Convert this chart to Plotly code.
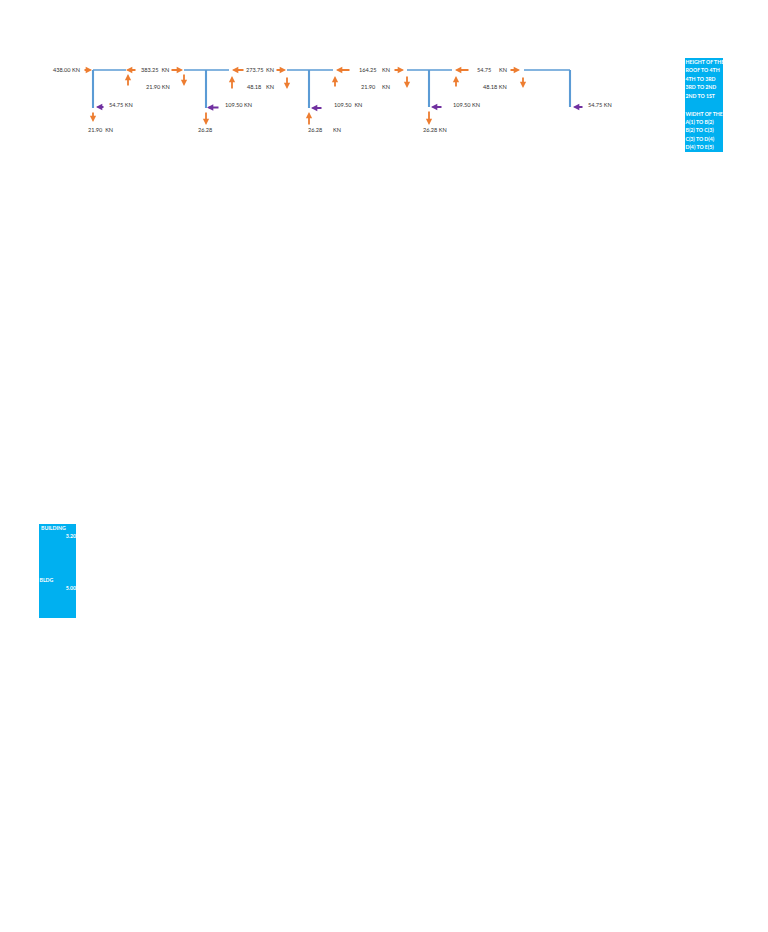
import plotly.graph_objects as go

BLUE = "#5B9BD5"
ORANGE = "#ED7D31"
PURPLE = "#7030A0"
PANEL = "#00B0F0"
TEXT = "#333333"
FONT = "Lato"

# frame members, (x0, y0, x1, y1) in page pixels
beam_segments = [(93, 70, 126, 70), (184, 70, 229, 70), (287, 70, 333, 70), (407, 70, 452, 70), (524, 70, 570, 70)]
column_segments = [(93, 70, 93, 108), (206, 70, 206, 108), (309, 70, 309, 108), (429, 70, 429, 107), (570, 70, 570, 107)]

# arrows, (tail x, tail y, tip x, tip y)
orange_arrows = [
    (83, 70, 92, 70), (137, 70, 126, 70), (128, 87, 128, 74), (93, 111, 93, 122),
    (170, 70, 183, 70), (184, 73, 184, 86), (206, 111, 206, 125), (245, 70, 232, 70),
    (232, 90, 232, 76), (275, 70, 286, 70), (287, 76, 287, 89), (351, 70, 336, 70),
    (335, 88, 335, 76), (393, 70, 404, 70), (407, 75, 407, 88), (309, 126, 309, 112),
    (429, 110, 429, 125), (470, 70, 455, 70), (456, 88, 456, 76), (509, 70, 520, 70),
    (523, 76, 523, 88),
]
purple_arrows = [(105, 107, 96, 107), (220, 107.5, 207, 107.5), (323, 108, 311, 108), (443, 107, 431, 107), (584, 107, 573, 107)]

# load labels
label_text = [
    "438.00 KN", "383.25  KN", "21.90 KN", "54.75 KN", "21.90  KN", "109.50 KN", "26.28",
    "273.75", "KN", "48.18", "KN", "164.25", "KN", "21.90", "KN", "109.50  KN", "26.28", "KN",
    "109.50 KN", "26.28 KN", "54.75", "KN", "48.18 KN", "54.75 KN",
]
label_x = [53, 141, 146, 109, 88, 225, 198, 246, 266, 247, 266, 359, 382, 361, 382, 334, 308, 333, 453, 423, 477, 499, 483, 588]
label_y = [71, 71, 88, 105.5, 130.5, 105.5, 130.5, 71, 71, 88, 88, 71, 71, 88, 88, 105.5, 130.5, 130.5, 105.5, 130.5, 71, 71, 88, 105.5]

# the two blue cell blocks
panels = [(685, 58, 723, 152), (39, 524, 76, 618)]
panel_text = [
    "HEIGHT OF THE", "ROOF TO 4TH", "4TH TO 3RD", "3RD TO 2ND", "2ND TO 1ST",
    "WIDHT OF THE", "A(1) TO B(2)", "B(2) TO C(3)", "C(3) TO D(4)", "D(4) TO E(5)",
    "BUILDING", "BLDG",
]
panel_x = [685.5, 685.5, 685.5, 685.5, 685.5, 685.5, 685.5, 685.5, 685.5, 685.5, 41, 39.5]
panel_y = [62.5, 71, 79.5, 88, 96.5, 114.5, 122.5, 131, 139.5, 148, 529, 580.5]
height_values = ["3.20", "5.00"]
height_x = [76, 76]
height_y = [536.5, 588.5]

fig = go.Figure()

for seg in beam_segments:
    fig.add_trace(go.Scatter(x=[seg[0], seg[2]], y=[seg[1], seg[3]], mode="lines",
                             line=dict(color=BLUE, width=1.6), hoverinfo="skip"))
for seg in column_segments:
    fig.add_trace(go.Scatter(x=[seg[0], seg[2]], y=[seg[1], seg[3]], mode="lines",
                             line=dict(color=BLUE, width=2.1), hoverinfo="skip"))

fig.add_trace(go.Scatter(x=label_x, y=label_y, text=label_text, mode="text", textposition="middle right",
                         textfont=dict(family=FONT, size=5.6, color=TEXT), hoverinfo="skip"))
fig.add_trace(go.Scatter(x=panel_x, y=panel_y, text=panel_text, mode="text", textposition="middle right",
                         textfont=dict(family=FONT, size=5.2, color="white", weight="bold"), hoverinfo="skip"))
fig.add_trace(go.Scatter(x=height_x, y=height_y, text=height_values, mode="text", textposition="middle left",
                         textfont=dict(family=FONT, size=5.2, color="white", weight="bold"), hoverinfo="skip"))


def add_arrows(arrows, color):
    for tail_x, tail_y, tip_x, tip_y in arrows:
        fig.add_annotation(x=tip_x, y=tip_y, ax=tail_x, ay=tail_y, xref="x", yref="y", axref="x", ayref="y",
                           text="", showarrow=True, arrowhead=2, arrowsize=0.7, arrowwidth=1.8, arrowcolor=color)


add_arrows(orange_arrows, ORANGE)
add_arrows(purple_arrows, PURPLE)

for x0, y0, x1, y1 in panels:
    fig.add_shape(type="rect", x0=x0, y0=y0, x1=x1, y1=y1, fillcolor=PANEL, line_width=0, layer="below")

fig.update_layout(
    width=768, height=932, margin=dict(l=0, r=0, t=0, b=0),
    paper_bgcolor="white", plot_bgcolor="white", showlegend=False,
    xaxis=dict(range=[0, 768], visible=False, fixedrange=True),
    yaxis=dict(range=[932, 0], visible=False, fixedrange=True),
)

fig.write_html("out.html", config={"displayModeBar": False},
               post_script="document.body.style.margin='0';")
